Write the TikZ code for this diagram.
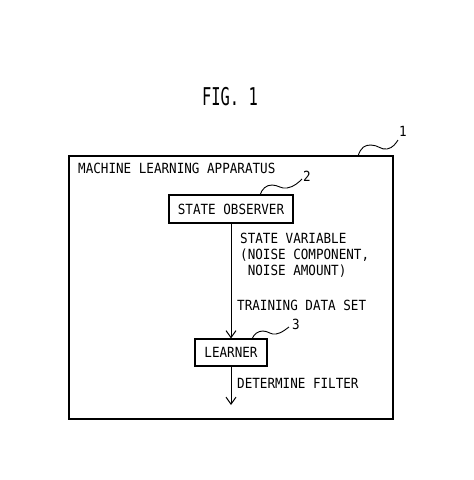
\documentclass[tikz,border=0pt]{standalone}
\usepackage{fontspec}
\setmonofont[FakeStretch=0.9]{DejaVu Sans Mono}
\newfontfamily\figfont[FakeStretch=0.63]{DejaVu Sans Mono}
\usetikzlibrary{arrows.meta,positioning}
\tikzset{
  frame/.style={draw,line width=1.3pt,minimum width=324pt,minimum height=263pt,inner sep=0pt},
  blk/.style={draw,line width=1.1pt,minimum height=28pt,inner sep=0pt,font=\ttfamily\fontsize{14}{16}\selectfont},
  lbl/.style={font=\ttfamily\fontsize{14}{16}\selectfont,inner sep=0pt,align=left},
  arr/.style={-{Straight Barb[length=7pt,width=10pt,line width=1pt]},line width=1pt},
  lead/.style={line width=0.9pt}
}

\begin{document}
\begin{tikzpicture}[x=1pt,y=-1pt]
\useasboundingbox (0,0) rectangle (474,480);

\node[font=\figfont\fontsize{24.5}{28}\selectfont,inner sep=0pt] (title) at (230,97) {FIG. 1};

\node[frame] (apparatus) at (231,287.5) {};
\node[lbl,anchor=base west] (apptext) at (78,173) {MACHINE LEARNING APPARATUS};

\node[blk,minimum width=124pt] (observer) at (231,209) {STATE OBSERVER};
\node[blk,minimum width=72pt,minimum height=27pt] (learner) at (231,352.5) {LEARNER};
\coordinate (filter) at (231,405);

\draw[arr] (observer.south) -- (learner.north);
\draw[arr] (learner.south) -- (filter);

\node[lbl,anchor=north west] (statevar) at (240,233) {STATE VARIABLE\\(NOISE COMPONENT,\\\phantom{(}NOISE AMOUNT)};
\node[lbl,anchor=base west] (trainset) at (237,310) {TRAINING DATA SET};
\node[lbl,anchor=base west] (determine) at (237,388) {DETERMINE FILTER};

% reference numerals
\node[lbl] (num1) at (403,131) {1};
\node[lbl] (num2) at (307,176) {2};
\node[lbl] (num3) at (296,324) {3};

\draw[lead] (358,156) .. controls (361,147) and (365,145) .. (371,145)
  .. controls (378,145) and (381,150) .. (387,149)
  .. controls (393,148) and (396,143) .. (398,140);
\draw[lead] (260,195) .. controls (262,189) and (266,185) .. (272,185)
  .. controls (278,185) and (281,189) .. (287,188)
  .. controls (294,187) and (299,182) .. (302,179);
\draw[lead] (252,339) .. controls (254,334) and (258,331) .. (263,331)
  .. controls (268,331) and (271,335) .. (276,334)
  .. controls (282,333) and (286,329) .. (289,327);

\end{tikzpicture}
\end{document}
